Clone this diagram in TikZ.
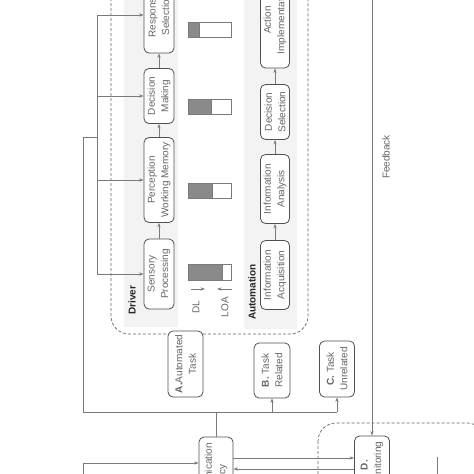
\documentclass[tikz,border=0pt]{standalone}
\usepackage{fontspec}
\setmainfont{Liberation Sans}
\usetikzlibrary{arrows.meta,calc}
\definecolor{lgray}{HTML}{7A7A7A}
\definecolor{bgray}{HTML}{505050}
\definecolor{tgray}{HTML}{666666}
\definecolor{pgray}{HTML}{F3F3F3}
\definecolor{dgray}{HTML}{666666}
\definecolor{fillbar}{HTML}{8A8A8A}
\begin{document}
\begin{tikzpicture}[x=1pt,y=-1pt,
  lin/.style={draw=lgray, line width=0.6pt},
  arr/.style={lin, -{Stealth[length=4.5pt,width=3.2pt]}},
  box/.style={draw=bgray, line width=0.8pt, rounded corners=5pt, fill=white, rotate=90, align=center, text=tgray, font=\fontsize{10}{13.5}\selectfont, inner sep=1pt},
  region/.style={draw=dgray, dash pattern=on 3pt off 2pt, line width=0.7pt, rounded corners=18pt},
  lab/.style={rotate=90, font=\bfseries\fontsize{10}{12}\selectfont, text=black!85},
  txt/.style={rotate=90, font=\fontsize{10}{12}\selectfont, text=tgray},
  bar/.style={draw=lgray, line width=0.6pt}
]
\useasboundingbox (0,0) rectangle (474,474);
\clip (0,0) rectangle (474,474);
\fill[white] (0,0) rectangle (474,474);

% dashed region and panels
\fill[pgray] (124,-10) rectangle (178,327);
\fill[pgray] (244,-10) rectangle (297,329);
\draw[region] (111,-40) rectangle (308,334);
\draw[region] (318,423) rectangle (485,540);

% labels
\node[lab] (drv) at (132,300) {Driver};
\node[lab] (aut) at (252,292) {Automation};

% driver boxes
\node[box, minimum width=70pt, minimum height=30pt] (sp) at (159,274) {Sensory\\Processing};
\node[box, minimum width=85pt, minimum height=30pt] (pwm) at (159,180) {Perception\\Working Memory};
\node[box, minimum width=55pt, minimum height=30pt] (dm) at (159,96) {Decision\\Making};
\node[box, minimum width=76pt, minimum height=30pt] (rs) at (159,15) {Response\\Selection};

% automation boxes
\node[box, minimum width=69pt, minimum height=29pt] (ia) at (275,275) {Information\\Acquisition};
\node[box, minimum width=69pt, minimum height=29pt] (ian) at (275,189) {Information\\Analysis};
\node[box, minimum width=55pt, minimum height=29pt] (ds) at (275,112) {Decision\\Selection};
\node[box, minimum width=96pt, minimum height=29pt] (ai) at (275,20) {Action\\Implementation};

\draw[arr] (sp.east) -- (pwm.west);
\draw[arr] (pwm.east) -- (dm.west);
\draw[arr] (dm.east) -- (rs.west);
\draw[arr] (ia.east) -- (ian.west);
\draw[arr] (ian.east) -- (ds.west);
\draw[arr] (ds.east) -- (ai.west);

% task boxes
\node[box, minimum width=66pt, minimum height=35pt] (A) at (185.5,364) {\textbf{A.}Automated\\Task};
\node[box, minimum width=55pt, minimum height=36pt] (B) at (272,370.5) {\textbf{B.} Task\\Related};
\node[box, minimum width=56pt, minimum height=35pt] (C) at (337,369) {\textbf{C.} Task\\Unrelated};
\node[box, minimum width=82pt, minimum height=34pt] (CP) at (216,478) {Communication\\Policy};
\node[box, minimum width=58pt, minimum height=35pt] (D) at (372,465) {\textbf{D.}\\Monitoring};

% bars
\fill[fillbar] (188,264) rectangle (222,280);
\draw[bar] (188,264) rectangle (231,280);
\draw[bar] (222,264) -- (222,280);
\fill[fillbar] (188,183) rectangle (212,198);
\draw[bar] (188,183) rectangle (231,198);
\draw[bar] (212,183) -- (212,198);
\fill[fillbar] (188,99) rectangle (211,114);
\draw[bar] (188,99) rectangle (231,114);
\draw[bar] (211,99) -- (211,114);
\fill[fillbar] (188,22) rectangle (199,37);
\draw[bar] (188,22) rectangle (231,37);
\draw[bar] (199,22) -- (199,37);

\node[txt] (dl) at (196,307) {DL};
\node[txt] (loa) at (225,307) {LOA};
\coordinate (dla) at (191,289);
\coordinate (dlb) at (205,289);
\coordinate (loaa) at (232,289);
\coordinate (loab) at (217,289);
\draw[arr] (dla) -- (dlb);
\draw[arr] (loaa) -- (loab);

% left bus
\coordinate (L0) at (83,412);
\coordinate (L1) at (83,137);
\coordinate (B0) at (97,137);
\coordinate (Bt) at (97,15);
\coordinate (Bb) at (97,274);
\coordinate (Bd) at (97,96);
\coordinate (Bp) at (97,180);
\draw[lin] (L0) -- (L1) -- (B0);
\draw[lin] (Bt) -- (Bb);
\draw[arr] (Bt) -- (rs.north);
\draw[arr] (Bd) -- (dm.north);
\draw[arr] (Bp) -- (pwm.north);
\draw[arr] (Bb) -- (sp.north);

% bottom distribution
\coordinate (R0) at (337,412);
\coordinate (Bx) at (272,412);
\coordinate (Cpx) at (216,412);
\draw[lin] (L0) -- (R0);
\draw[arr] (Bx) -- (B.west);
\draw[arr] (R0) -- (C.west);
\draw[lin] (CP.east) -- (Cpx);

% input to communication policy
\coordinate (in0) at (83,480);
\draw[arr] (in0) |- ($(CP.north)+(0,-15)$);

% communication policy <-> monitoring
\coordinate (r1) at (0,458);
\coordinate (r2) at (0,469);
\draw[arr] (CP.south |- r1) -- (D.north |- r1);
\draw[arr] (D.north |- r2) -- (CP.south |- r2);

% feedback
\coordinate (fb) at (372,-5);
\draw[arr] (fb) -- (D.east);
\node[txt] (fbl) at (386,157) {Feedback};

% small mark in monitoring region
\coordinate (m0) at (437,457);
\coordinate (m1) at (437,480);
\draw[lin] (m0) -- (m1);
\end{tikzpicture}
\end{document}
